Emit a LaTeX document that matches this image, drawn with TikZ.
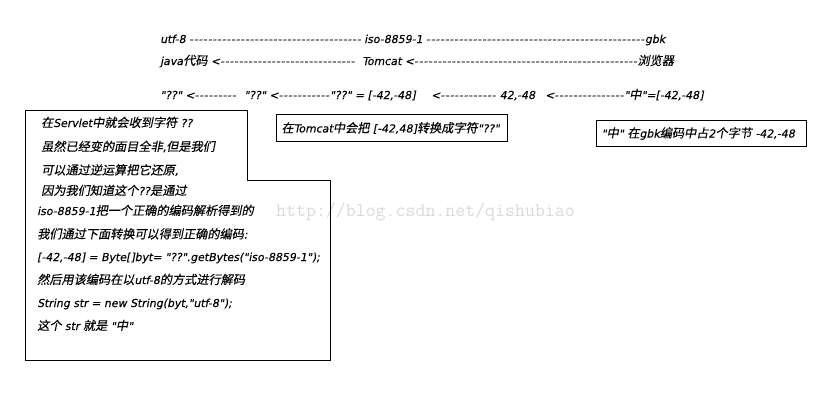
\documentclass[tikz,border=0pt]{standalone}
\usepackage{fontspec}
\newfontfamily\lat{DejaVu Sans}[FakeSlant=0.2, FakeBold=0.3]
\newfontfamily\cjkf{Noto Sans CJK SC}[FakeSlant=0.2, FakeBold=0.2]
\newcommand\zh[1]{{\cjkf\fontsize{12.2}{14}\selectfont #1}}
\newcommand\dsh[1]{\ifnum#1>0 -\kern0.7bp\relax\expandafter\dsh\expandafter{\the\numexpr#1-1\relax}\fi}
\definecolor{wm}{RGB}{218,218,212}
\tikzset{
  lbl/.style={anchor=base west, inner sep=0pt, font=\lat\fontsize{11}{13}\selectfont},
  boxed/.style={draw=black, line width=1bp, inner ysep=0pt, inner xsep=5bp,
    anchor=north west, align=left, font=\lat\fontsize{11}{13}\selectfont},
  frame/.style={draw=black, line width=1bp},
}
\begin{document}
\begin{tikzpicture}[x=1bp,y=-1bp]
\useasboundingbox (0,0) rectangle (832,403);
% watermark
\node[anchor=west, inner sep=0pt, font=\ttfamily\fontsize{19.4}{20}\selectfont, text=wm] (wm) at (276,212) {http://blog.csdn.net/qishubiao};
% line 1
\node[lbl] (a1) at (160,43) {utf-8 \dsh{37}};
\node[lbl] (a2) at (364,43) {iso-8859-1 \dsh{47}gbk};
% line 2
\node[lbl] (b1) at (160,65) {java\zh{代码} <\dsh{29}};
\node[lbl] (b2) at (362,65) {Tomcat <\dsh{48}\zh{浏览器}};
% line 3
\node[lbl] (c1) at (160,99) {"??" <\dsh{9}};
\node[lbl] (c2) at (244,99) {"??" <\dsh{11}"??" = [-42,-48]};
\node[lbl] (c3) at (431,99) {<\dsh{12} 42,-48};
\node[lbl] (c4) at (545,99) {<\dsh{15}"\zh{中}"=[-42,-48]};
% side boxes
\node[boxed, text width=221bp, minimum height=27bp] (tc) at (276,114) {\zh{在}Tomcat\zh{中会把} [-42,48]\zh{转换成字符}"??"};
\node[boxed, text width=200bp, minimum height=26bp] (gb) at (596,120) {"\zh{中}" \zh{在}gbk\zh{编码中占}2\zh{个字节} -42,-48};
% big box
\draw[frame] (25,110) -- (247,110) -- (247,180) -- (330,180) -- (330,360) -- (25,360) -- cycle;
\node[lbl] (t1) at (41,127) {\zh{在}Servlet\zh{中就会收到字符} ??};
\node[lbl] (t2) at (41,151) {\zh{虽然已经变的面目全非},\zh{但是我们}};
\node[lbl] (t3) at (41,174.5) {\zh{可以通过逆运算把它还原},};
\node[lbl] (t4) at (41,195) {\zh{因为我们知道这个}??\zh{是通过}};
\node[lbl] (t5) at (37,215) {iso-8859-1\zh{把一个正确的编码解析得到的}};
\node[lbl] (t6) at (37,238.5) {\zh{我们通过下面转换可以得到正确的编码}:};
\node[lbl] (t7) at (37,261) {[-42,-48] = Byte[]byt= "??".getBytes("iso-8859-1");};
\node[lbl] (t8) at (37,284) {\zh{然后用该编码在以}utf-8\zh{的方式进行解码}};
\node[lbl] (t9) at (37,307) {String str = new String(byt,"utf-8");};
\node[lbl] (t10) at (37,330) {\zh{这个} str \zh{就是} "\zh{中}"};
\end{tikzpicture}
\end{document}
